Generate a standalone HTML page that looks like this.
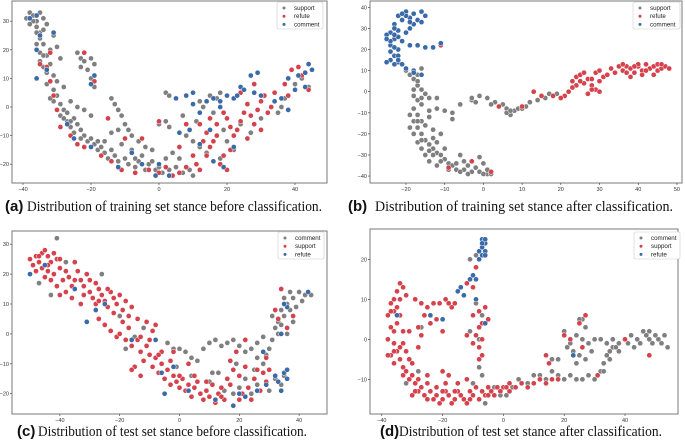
<!DOCTYPE html>
<html><head><meta charset="utf-8"><style>
html,body{margin:0;padding:0;background:#fff;}
svg{display:block;}
</style></head><body>
<svg id="fig" width="685" height="444" viewBox="0 0 685 444" xmlns="http://www.w3.org/2000/svg" font-family="Liberation Sans, sans-serif"></svg>
<script>
// ---------- Panel (a): training set before classification ----------
const supportA=[[-39,31],[-38,33],[-37,32],[-36,30],[-35,33],[-34,31],[-36,28],[-35,26],[-34,27],[-35,24],[-34,22],[-36,22],[-35,19],[-33,18],[-35,16],[-34,14],[-32,15],[-33,12],[-31,11],[-33,8],[-31,6],[-30,4],[-31,2],[-29,1],[-28,-1],[-29,-3],[-27,-2],[-27,-5],[-25,-4],[-26,-7],[-24,-6],[-25,-9],[-23,-8],[-22,-10],[-21,-12],[-20,-11],[-19,-13],[-18,-15],[-17,-14],[-16,-16],[-15,-18],[-13,-17],[-12,-19],[-10,-18],[-9,-20],[-7,-21],[-6,-19],[-4,-22],[-3,-20],[-1,-22],[0,-21],[1,-23],[3,-22],[5,-21],[7,-23],[9,-22],[10,-24],[-37,30],[-33,29],[-31,25],[-32,20],[-30,21],[-29,17],[-24,19],[-23,17],[-22,16],[-23,14],[-21,13],[-20,17],[-19,15],[-20,10],[-19,7],[-26,2],[-24,0],[-22,-1],[-20,-3],[-14,3],[-13,1],[-12,-1],[-11,-3],[-10,-6],[-9,-8],[-8,-10],[-12,-8],[-14,-9],[-16,-12],[-6,-12],[-4,-14],[-2,-15],[0,-6],[2,-5],[3,-7],[2,5],[3,4],[7,-3],[8,-10],[10,-12],[12,-14],[14,-16],[11,-5],[12,2],[13,0],[15,4],[17,3],[18,5],[20,4],[16,-2],[19,-8],[20,-12],[22,-15],[18,-18],[6,-18],[4,-16],[-5,-17],[-8,-15],[-11,-13],[35,-2],[36,0],[37,3],[40,8],[42,10],[44,7],[30,-4],[27,-9],[24,-6],[-38,29],[-36,26],[-34,18],[-32,3],[-28,-4],[-26,-5],[-23,-11],[-18,-12],[-14,-15],[-7,-18],[-2,-19],[2,-18],[-30,9],[-28,7]];
const refuteA=[[-35,15],[-33,14],[-32,19],[-32,9],[-31,4],[-30,-1],[-29,-7],[-26,-10],[-24,-13],[-22,-14],[-19,9],[-22,19],[-17,-17],[-14,-19],[-11,-22],[-7,-23],[-3,-22],[0,-23],[2,-21],[4,-24],[6,-23],[8,-21],[11,-20],[12,-22],[14,-17],[15,-14],[16,-12],[18,-20],[19,-17],[20,-22],[21,-15],[22,-10],[23,-8],[24,-5],[25,-2],[26,1],[27,-3],[28,-6],[29,-1],[30,2],[31,4],[32,-2],[33,0],[34,5],[28,8],[37,8],[39,13],[41,14],[42,11],[44,6],[15,-4],[17,-6],[19,-2],[20,-4],[14,-9],[12,-6],[8,-6],[6,-14],[-10,-11],[-15,-4],[-5,-11],[0,-5],[10,-17],[26,-11],[30,-8],[38,4],[24,5],[17,-10],[13,-12],[21,-7]];
const commentA=[[-38,31],[-36,32],[-35,25],[-36,20],[-36,10],[-33,13],[-31,26],[-20,8],[-19,11],[-27,-6],[-25,-11],[-20,-14],[-12,-21],[-8,-16],[-5,-20],[0,-20],[3,-24],[5,3],[8,4],[10,5],[12,-2],[14,2],[16,3],[18,2],[20,4],[22,3],[23,4],[24,7],[25,6],[27,11],[29,12],[28,5],[22,-14],[19,-21],[16,-19],[12,-13],[9,-8],[18,0],[15,-8],[36,3],[38,10],[40,6],[41,11],[43,12],[44,15],[45,13],[43,7],[38,-1],[34,2],[30,4],[-1,-24],[10,1],[6,-9]];
const xTicksA=[-40,-20,0,20,40];
const yTicksA=[30,20,10,0,-10,-20];

// ---------- Panel (b): training set after classification ----------
const supportB=[[-20,10],[-18,6],[-17,3],[-16,1],[-18,-2],[-17,-4],[-16,-6],[-18,-8],[-17,-11],[-18,-14],[-17,-17],[-16,-20],[-18,-20],[-15,-23],[-14,-25],[-13,-27],[-12,-29],[-11,-30],[-10,-32],[-9,-34],[-8,-35],[-7,-37],[-5,-37],[-3,-38],[-1,-38],[1,-39],[2,-39],[-15,-16],[-14,-12],[-16,-14],[-14,-9],[-12,-8],[-10,-9],[-8,-10],[-8,-13],[-14,-3],[-12,-3],[-13,-18],[-11,-20],[-12,-24],[-10,-27],[-6,-30],[-5,-33],[-1,-31],[0,-34],[1,-37],[-15,-30],[-14,-33],[-12,-35],[-6,-6],[-3,-4],[-1,-2],[1,-3],[3,-5],[5,-6],[6,-8],[7,-11],[8,-9],[9,-8],[11,-7],[12,-5],[14,-4],[16,-3],[17,-1],[19,-1],[-16,11],[-17,8],[-15,-1],[-13,-22],[-17,-24],[-16,-27],[-14,-28],[-7,-34],[-4,-35],[-2,-36],[-19,8],[-17,5],[-18,1],[-16,-3],[-19,-11],[-17,-14],[-19,-17],[-16,-23],[-13,-30],[-11,-33],[-9,-37],[-6,-38],[-4,-39],[0,-39],[-3,-3],[-2,-5],[2,-6],[6,-10],[7,-9],[10,-8]];
const refuteB=[[23,5],[24,7],[25,8],[26,4],[27,6],[28,3],[29,9],[30,10],[31,7],[29,1],[30,0],[27,-1],[22,0],[21,-2],[20,-3],[18,-2],[15,-2],[13,0],[33,11],[35,12],[36,10],[37,12],[38,11],[39,9],[40,12],[41,10],[42,13],[43,11],[44,12],[45,10],[46,11],[47,12],[48,11],[34,9],[32,8],[38,7],[44,8],[40,13],[45,13],[28,6],[30,5],[26,9],[24,3],[-11,22],[10,-7],[4,-7],[-9,-36],[2,-38],[-3,-33],[36,13],[39,12],[42,10],[46,13],[41,8],[37,9],[25,5],[28,1],[23,2]];
const commentB=[[-22,36],[-20,38],[-18,37],[-16,38],[-21,34],[-19,35],[-17,34],[-15,36],[-16,33],[-23,32],[-24,28],[-25,27],[-23,25],[-24,22],[-22,26],[-21,24],[-24,19],[-23,17],[-24,15],[-22,14],[-25,14],[-23,13],[-21,13],[-20,11],[-18,10],[-19,22],[-17,22],[-15,21],[-13,21],[-11,23],[-20,28],[-22,29],[-18,32],[-19,30],[-23,30],[-24,24],[-22,20],[-16,8],[-18,9],[-20,36],[-23,27],[-22,17],[-21,37],[-19,33],[-25,25],[-23,21],[-22,15]];
const xTicksB=[-20,-10,0,10,20,30,40,50];
const yTicksB=[40,30,20,10,0,-10,-20,-30,-40];

// ---------- Panel (c): test set before classification ----------
const commentC=[[-41,32],[-38,24],[-43,13],[-47,17],[-26,20],[-20,6],[-15,-1],[-18,-5],[-12,2],[-4,-3],[-2,-5],[0,-5],[2,-6],[4,-8],[6,-9],[8,-5],[10,-3],[12,-2],[14,-4],[16,-3],[18,-2],[20,-4],[22,-6],[24,-5],[26,-3],[28,-1],[29,-7],[30,-5],[31,-2],[32,2],[33,4],[34,8],[35,12],[36,10],[37,14],[38,12],[40,14],[41,11],[42,13],[44,13],[39,9],[38,4],[35,6],[33,0],[31,6],[36,0],[22,-15],[20,-18],[24,-20],[26,-17],[18,-20],[15,-19],[13,-13],[11,-13],[10,-16],[32,-15],[34,-17],[35,-14],[30,-19],[28,-10],[26,-8],[4,-14],[-1,-11],[25,-12],[19,-10],[37,8],[34,3]];
const supportC=[[-50,25],[-49,23],[-48,26],[-47,24],[-46,27],[-45,28],[-44,26],[-43,24],[-42,27],[-41,25],[-46,22],[-44,21],[-42,20],[-40,22],[-39,18],[-41,16],[-43,18],[-38,14],[-36,12],[-34,21],[-33,18],[-32,16],[-31,20],[-30,14],[-29,12],[-28,17],[-27,15],[-26,13],[-25,11],[-24,9],[-23,14],[-22,12],[-21,10],[-20,13],[-19,8],[-18,11],[-17,6],[-16,9],[-27,5],[-25,3],[-23,1],[-21,-1],[-19,4],[-18,-2],[-16,-4],[-14,-2],[-13,-6],[-12,-9],[-11,-4],[-10,-7],[-9,-11],[-8,-8],[-7,-13],[-6,-10],[-5,-15],[-4,-12],[-3,-17],[-2,-14],[-1,-16],[0,-18],[1,-15],[2,-19],[3,-17],[4,-21],[5,-18],[6,-16],[7,-20],[8,-22],[9,-19],[10,-21],[11,-17],[12,-23],[13,-20],[14,-18],[15,-22],[16,-15],[17,-9],[18,-12],[19,-6],[20,-14],[21,-20],[22,-11],[23,-18],[24,-22],[25,-15],[26,-12],[27,-19],[28,-13],[29,-16],[30,-12],[-15,-11],[-13,-14],[-8,3],[-16,-12],[-2,-6],[3,-10],[-35,24],[-38,21],[-45,19],[-48,21],[-33,10],[-36,16],[-11,4],[-9,1],[33,5],[32,8],[34,15],[36,2],[38,6],[29,-8],[22,-2],[-30,18],[-28,10],[-24,15],[-14,5],[-6,-6],[-47,26],[-44,23],[-40,25],[-37,19],[-32,13],[-27,11],[-22,7],[-20,0],[-17,2],[-13,-1],[-10,-2],[-7,-7],[-3,-9],[0,-14],[5,-14],[9,-16],[14,-21],[17,-17],[20,-22],[-40,13],[-35,18]];
const refuteC=[[-50,20],[-45,23],[-35,15],[-31,4],[-28,8],[-25,10],[-16,-2],[-8,-2],[-6,-13],[-5,-20],[-2,-11],[3,-19],[12,-22],[18,-24],[20,-20],[22,-21],[26,-19],[29,-17],[32,-14],[33,-16],[35,-13],[36,-15],[36,-12],[34,-19],[28,-6],[34,0],[43,14],[36,9],[35,10]];
const xTicksC=[-40,-20,0,20,40];
const yTicksC=[30,20,10,0,-10,-20];

// ---------- Panel (d): test set after classification ----------
const commentD=[[-11,20],[-9,21],[-11,2],[-8,0],[-10,-1],[-8,-7],[-10,-11],[-6,-16],[-3,-12],[-1,-14],[1,-14],[3,-12],[5,-10],[8,-11],[10,-9],[12,-9],[14,-10],[16,-8],[18,-9],[20,-10],[22,-9],[24,-10],[26,-10],[28,-9],[30,-10],[32,-8],[33,-6],[34,-4],[35,-3],[36,-2],[38,-1],[40,0],[42,1],[44,0],[46,2],[47,1],[48,0],[50,1],[52,-1],[54,-2],[53,1],[49,-1],[45,-1],[43,-2],[38,-3],[36,0],[34,-1],[32,0],[30,0],[28,-1],[26,0],[24,1],[22,-1],[20,2],[21,-2],[23,-3],[25,-4],[27,-5],[29,-3],[24,-6],[18,-5],[16,-5],[26,5],[27,3],[25,5],[-31,-10],[-28,-8],[-27,3],[-7,-9],[-32,-11],[-9,9],[-7,6],[33,-8],[35,-5],[37,-2],[41,-1],[51,0],[48,2],[31,-9]];
const supportD=[[-34,14],[-33,13],[-35,12],[-36,10],[-37,9],[-38,6],[-36,7],[-35,4],[-37,3],[-38,0],[-36,-1],[-35,-3],[-37,-4],[-36,-6],[-34,-5],[-33,-7],[-32,-8],[-31,-10],[-30,-9],[-29,-11],[-28,-10],[-27,-12],[-28,-13],[-26,-14],[-24,-13],[-23,-15],[-22,-14],[-21,-16],[-20,-15],[-19,-13],[-18,-14],[-17,-16],[-16,-15],[-15,-13],[-14,-14],[-13,-15],[-12,-16],[-11,-13],[-10,-14],[-9,-12],[-8,-15],[-7,-13],[-6,-14],[-5,-12],[-4,-13],[-3,-14],[-2,-12],[-1,-13],[0,-12],[2,-11],[4,-12],[6,-11],[8,-12],[10,-11],[12,-10],[14,-11],[16,-10],[18,-10],[-34,6],[-33,2],[-34,-2],[-32,-3],[-31,2],[-30,-6],[-34,10],[-32,11],[-38,-4],[-29,10],[-27,9],[-25,8],[-23,9],[-21,9],[-19,10],[-17,8],[-16,9],[-24,4],[-22,5],[-20,2],[-28,3],[-27,1],[-28,-2],[-25,-9],[-20,-8],[-18,-9],[-12,-10],[-10,13],[-9,18],[-10,6],[-8,7],[-7,4],[-9,1],[-7,0],[-10,-1],[-12,1],[-8,-5],[-7,-4],[-5,5],[-6,8],[-12,14],[14,-4],[15,-6],[20,1],[22,0],[25,4],[27,6],[26,-2],[31,-9],[48,-4],[40,0],[-25,-11],[-15,-11],[2,-13],[-30,-14],[-36,2],[-33,-1],[-35,8],[-31,-5],[-19,-11],[-22,-12],[-37,7],[-36,-3],[-33,-9],[-29,-13],[-25,-15],[-20,-13],[-16,-13],[-11,-15],[-5,-14],[1,-12],[-18,9],[-26,6],[-8,3],[-8,-2]];
const refuteD=[[-7,25],[-6,24],[-7,23],[-6,22],[-8,22],[-7,21],[-8,20],[-6,21],[-7,24],[-6,25],[-10,16],[-9,15],[-11,15],[-14,13],[-15,12],[-13,11],[-9,10],[-6,4],[-24,6],[-35,6],[-20,5],[23,-4]];
const xTicksD=[-40,-20,0,20,40];
const yTicksD=[20,10,0,-10];

const GRAY='#7f7f7f', RED='#d6424c', BLUE='#3b6aa9';
const NS='http://www.w3.org/2000/svg';
const svg=document.getElementById('fig');
function mk(tag,attrs,parent){const e=document.createElementNS(NS,tag);for(const k in attrs)e.setAttribute(k,attrs[k]);(parent||svg).appendChild(e);return e;}

function panel(cfg){
  const g=mk('g',{});
  
  
  const sx=v=>cfg.x0+v*cfg.kx, sy=v=>cfg.y0-v*cfg.ky;
  cfg.series.forEach(s=>{
    const sg=mk('g',{},g);
    
    
    s.data.forEach(p=>{
      const c=mk('circle',{cx:sx(p[0]).toFixed(1),cy:sy(p[1]).toFixed(1),r:2.6,fill:s.color,stroke:'#fff','stroke-width':0.5},sg);
      
      
    });
  });
  const fr=mk('rect',{x:cfg.L,y:cfg.T,width:cfg.R-cfg.L,height:cfg.B-cfg.T,fill:'none',stroke:'#7a7a7a','stroke-width':1},g);
  
  
  cfg.xt.forEach(t=>{
    const x=sx(t);
    mk('line',{x1:x,y1:cfg.B,x2:x,y2:cfg.B+2,stroke:'#333','stroke-width':0.6},g);
    const tx=mk('text',{x:x,y:cfg.B+8,'font-size':5.5,'text-anchor':'middle',fill:'#333'},g);
    tx.textContent=(t<0?'\u2212'+(-t):t);
    
    
  });
  cfg.yt.forEach(t=>{
    const y=sy(t);
    mk('line',{x1:cfg.L-2,y1:y,x2:cfg.L,y2:y,stroke:'#333','stroke-width':0.6},g);
    const tx=mk('text',{x:cfg.L-3,y:y+2,'font-size':5.5,'text-anchor':'end',fill:'#333'},g);
    tx.textContent=(t<0?'\u2212'+(-t):t);
    
    
  });
  const lg=mk('g',{},g);
  
  
  mk('rect',{x:cfg.lx,y:cfg.ly,width:cfg.lw,height:27,fill:'#fff',stroke:'#ccc','stroke-width':0.6,rx:1.5},lg);
  cfg.series.forEach((s,i)=>{
    const y=cfg.ly+6+i*8.2;
    mk('circle',{cx:cfg.lx+7,cy:y,r:1.5,fill:s.color},lg);
    const t=mk('text',{x:cfg.lx+17,y:y+2,'font-size':6.2,fill:'#222'},lg);
    t.textContent=s.label;
    
    
  });
  const cb=mk('text',{x:cfg.cx,y:cfg.cy,'font-size':15,'font-weight':'bold','font-family':'Liberation Sans, sans-serif',fill:'#111'},g);
  cb.textContent=cfg.tag;
  
  
  const ct=mk('text',{x:cfg.ctx,y:cfg.cy,'font-size':15,'font-family':'Liberation Serif, serif',fill:'#111',textLength:cfg.ctw,lengthAdjust:'spacingAndGlyphs'},g);
  ct.textContent=cfg.caption;
  
  
}

panel({name:'panel-a',L:12,R:327,T:1,B:183,x0:159,kx:3.4,y0:107,ky:2.86,xt:xTicksA,yt:yTicksA,lx:277,ly:2,lw:46,
  series:[{label:'support',color:GRAY,data:supportA},{label:'refute',color:RED,data:refuteA},{label:'comment',color:BLUE,data:commentA}],
  tag:'(a)',cx:5,ctx:27,ctw:295,cy:211,caption:'Distribution of training set stance before classification.'});
panel({name:'panel-b',L:370,R:682,T:1,B:183,x0:483.4,kx:3.871,y0:91.7,ky:2.109,xt:xTicksB,yt:yTicksB,lx:633,ly:2,lw:47,
  series:[{label:'support',color:GRAY,data:supportB},{label:'refute',color:RED,data:refuteB},{label:'comment',color:BLUE,data:commentB}],
  tag:'(b)',cx:348,ctx:375,ctw:298,cy:211,caption:'Distribution of training set stance after classification.'});
panel({name:'panel-c',L:12,R:327,T:231,B:414,x0:179.5,kx:2.99,y0:333.9,ky:2.99,xt:xTicksC,yt:yTicksC,lx:278,ly:232,lw:46,
  series:[{label:'comment',color:GRAY,data:commentC},{label:'support',color:RED,data:supportC},{label:'refute',color:BLUE,data:refuteC}],
  tag:'(c)',cx:17,ctx:38,ctw:269,cy:436,caption:'Distribution of test set stance before classification.'});
panel({name:'panel-d',L:370,R:678,T:229,B:414,x0:503.4,kx:3.04,y0:339.3,ky:4,xt:xTicksD,yt:yTicksD,lx:634,ly:232,lw:46,
  series:[{label:'comment',color:GRAY,data:commentD},{label:'support',color:RED,data:supportD},{label:'refute',color:BLUE,data:refuteD}],
  tag:'(d)',cx:380,ctx:399,ctw:263,cy:436,caption:'Distribution of test set stance after classification.'});
</script>
</body></html>
